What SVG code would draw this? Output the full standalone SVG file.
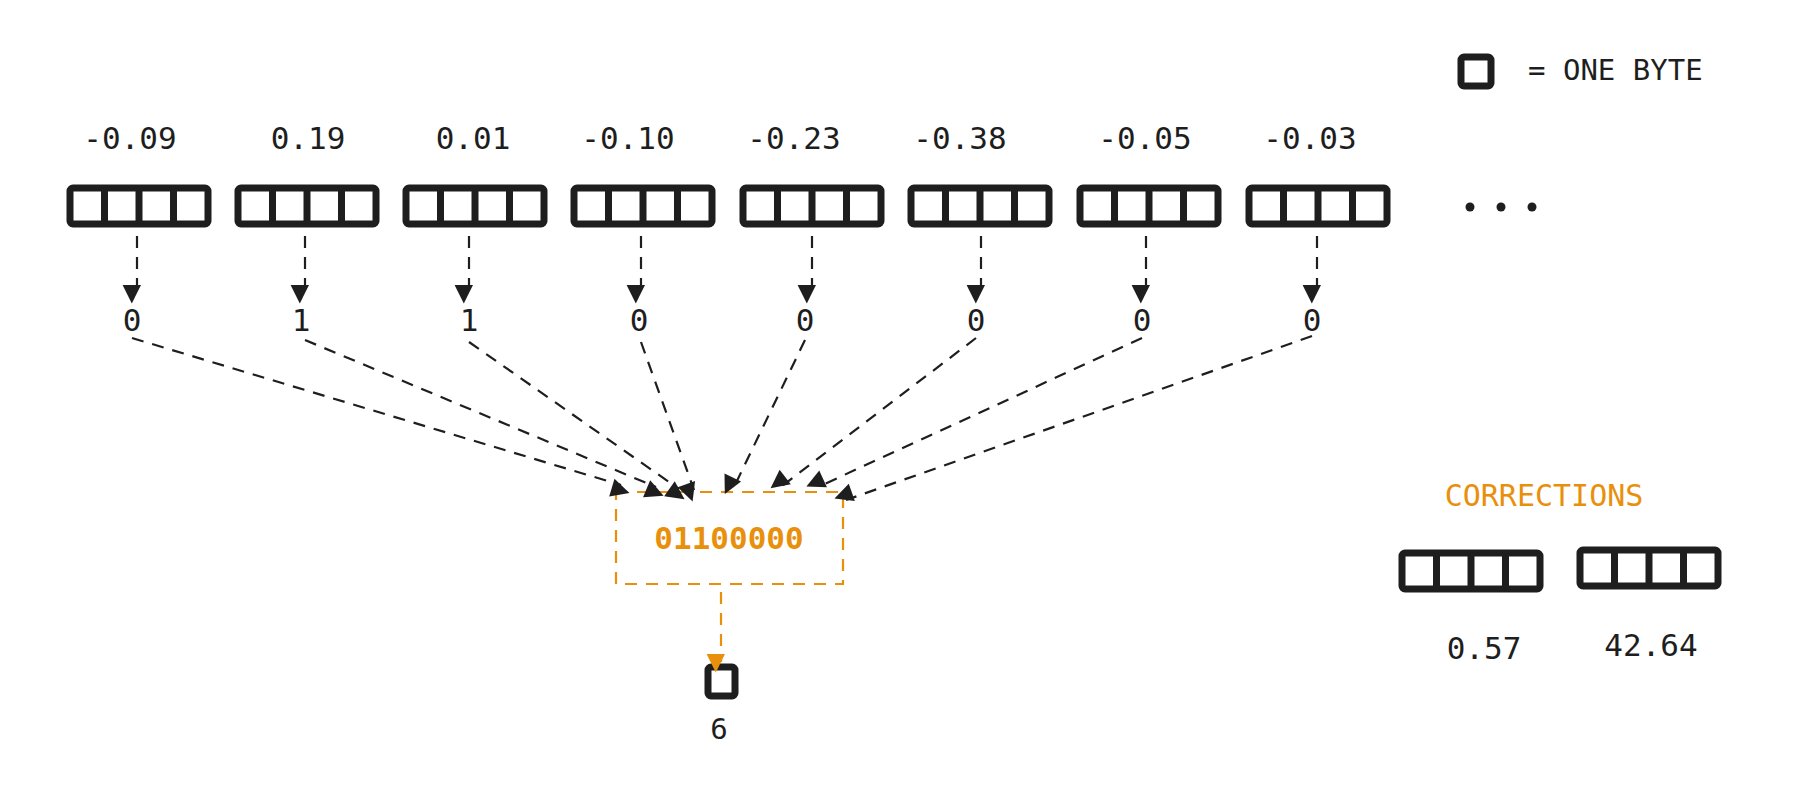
<svg xmlns="http://www.w3.org/2000/svg" width="1804" height="790" viewBox="0 0 1804 790">
<defs>
<style>
.t{font-family:"DejaVu Sans Mono","Liberation Mono",monospace;font-size:31px;fill:#1e1e1e;text-anchor:middle;dominant-baseline:central}
.o{fill:#e8900c;font-weight:bold}
.b{fill:none;stroke:#1e1e1e;stroke-width:7;stroke-linejoin:round}
.d{fill:none;stroke:#1e1e1e;stroke-width:2.2;stroke-dasharray:12 9}
</style>
<marker id="ah" viewBox="0 0 10 10" refX="10" refY="5" markerWidth="8" markerHeight="8" orient="auto" markerUnits="userSpaceOnUse" style="overflow:visible"><path d="M0,0 L10,5 L0,10 z" fill="#1e1e1e" transform="scale(2.3)"/></marker>
<marker id="ao" viewBox="0 0 10 10" refX="10" refY="5" markerWidth="8" markerHeight="8" orient="auto" markerUnits="userSpaceOnUse" style="overflow:visible"><path d="M0,0 L10,5 L0,10 z" fill="#e8900c" transform="scale(2.3)"/></marker>
<g id="grp"><rect class="b" x="0" y="0" width="138" height="36" rx="3"/><path class="b" d="M34.5,0V36M69,0V36M103.5,0V36"/></g>
</defs>
<rect width="1804" height="790" fill="#fff"/>
<g id="legend"><rect class="b" x="1461" y="57" width="30" height="29" rx="3"/><text class="t" x="1528" y="70" style="text-anchor:start;font-size:29px">= ONE BYTE</text></g>
<g id="values">
<use href="#grp" x="70" y="188"/><use href="#grp" x="238" y="188"/><use href="#grp" x="406" y="188"/><use href="#grp" x="574" y="188"/><use href="#grp" x="743" y="188"/><use href="#grp" x="911" y="188"/><use href="#grp" x="1080" y="188"/><use href="#grp" x="1249" y="188"/>
<text class="t" x="130" y="138">-0.09</text><text class="t" x="308" y="138">0.19</text><text class="t" x="473" y="138">0.01</text><text class="t" x="628" y="138">-0.10</text><text class="t" x="794" y="138">-0.23</text><text class="t" x="960" y="138">-0.38</text><text class="t" x="1145" y="138">-0.05</text><text class="t" x="1310" y="138">-0.03</text>
<circle cx="1470" cy="207" r="4.5" fill="#1e1e1e"/><circle cx="1501" cy="207" r="4.5" fill="#1e1e1e"/><circle cx="1532" cy="207" r="4.5" fill="#1e1e1e"/>
</g>
<g id="bits">
<text class="t" x="132" y="320">0</text><text class="t" x="301" y="320">1</text><text class="t" x="469" y="320">1</text><text class="t" x="639" y="320">0</text><text class="t" x="805" y="320">0</text><text class="t" x="976" y="320">0</text><text class="t" x="1142" y="320">0</text><text class="t" x="1312" y="320">0</text>
</g>
<g id="packed"><rect x="616" y="492" width="227" height="92" fill="none" stroke="#e8900c" stroke-width="2.2" stroke-dasharray="12 9"/><text class="t o" x="729" y="538">01100000</text></g>
<g id="result"><rect class="b" x="708" y="667" width="27" height="29" rx="3"/><text class="t" x="719" y="729" style="font-size:29px">6</text></g>
<g id="corrections"><text class="t o" x="1544" y="495" style="font-weight:normal;font-size:30px">CORRECTIONS</text>
<use href="#grp" x="1402" y="553"/><use href="#grp" x="1580" y="550"/>
<text class="t" x="1484" y="648">0.57</text><text class="t" x="1651" y="645">42.64</text></g>
<g id="connectors">
<path class="d" d="M137,236V293" marker-end="url(#ah)"/><path class="d" d="M305,236V293" marker-end="url(#ah)"/><path class="d" d="M469,236V293" marker-end="url(#ah)"/><path class="d" d="M641,236V293" marker-end="url(#ah)"/><path class="d" d="M812,236V293" marker-end="url(#ah)"/><path class="d" d="M981,236V293" marker-end="url(#ah)"/><path class="d" d="M1146,236V293" marker-end="url(#ah)"/><path class="d" d="M1317,236V293" marker-end="url(#ah)"/>
<path class="d" d="M132,338L621,485" marker-end="url(#ah)"/><path class="d" d="M305,340L656,487" marker-end="url(#ah)"/><path class="d" d="M469,342L679,489" marker-end="url(#ah)"/><path class="d" d="M641,342L694,490" marker-end="url(#ah)"/><path class="d" d="M805,340L734,487" marker-end="url(#ah)"/><path class="d" d="M976,338L782,486" marker-end="url(#ah)"/><path class="d" d="M1142,338L818,487" marker-end="url(#ah)"/><path class="d" d="M1312,336L846,500" marker-end="url(#ah)"/>
<path d="M721,592V662" fill="none" stroke="#e8900c" stroke-width="2.2" stroke-dasharray="12 9" marker-end="url(#ao)"/>
</g>
</svg>
